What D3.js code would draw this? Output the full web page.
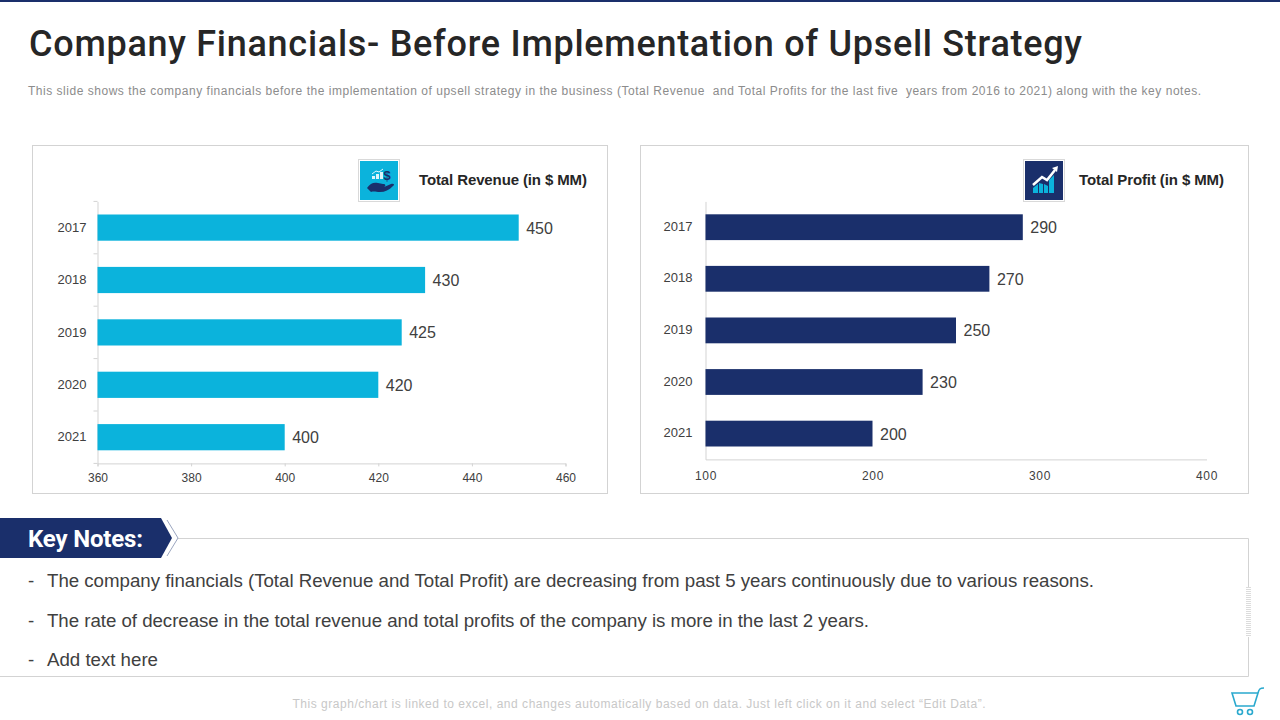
<!DOCTYPE html>
<html>
<head>
<meta charset="utf-8">
<script src="https://cdn.jsdelivr.net/npm/d3@7"></script>
<style>
html, body { margin: 0; padding: 0; background: #fff; }
svg { display: block; }
text { font-family: "Liberation Sans", Arial, sans-serif; white-space: pre; }
</style>
</head>
<body>
<script>
// chart values
const years = ["2017", "2018", "2019", "2020", "2021"];
const revenue = [450, 430, 425, 420, 400];
const profit = [290, 270, 250, 230, 200];
const revenueTicks = [360, 380, 400, 420, 440, 460];
const profitTicks = [100, 200, 300, 400];
const notes = [
  "The company financials (Total Revenue and Total Profit) are decreasing from past 5 years continuously due to various reasons.",
  "The rate of decrease in the total revenue and total profits of the company is more in the last 2 years.",
  "Add text here"
];

const cyan = "#0BB3DC", navy = "#1A2F6B", border = "#D3D3D3";

const svg = d3.select("body").append("svg")
  .attr("width", 1280)
  .attr("height", 720);

svg.append("rect").attr("width", 1280).attr("height", 2).attr("fill", navy);

svg.append("text")
  .attr("x", 29).attr("y", 55.5)
  .attr("font-size", 36)
  .attr("fill", "#262626")
  .attr("textLength", 1053)
  .style("font-family", "Roboto, sans-serif")
  .style("font-weight", 500)
  .text("Company Financials- Before Implementation of Upsell Strategy");

svg.append("text")
  .attr("x", 28).attr("y", 94.5)
  .attr("font-size", 12)
  .attr("fill", "#8c8c8c")
  .attr("textLength", 1173)
  .text("This slide shows the company financials before the implementation of upsell strategy in the business (Total Revenue  and Total Profits for the last five  years from 2016 to 2021) along with the key notes.");

function panel(o) {
  const g = svg.append("g");
  g.append("rect")
    .attr("x", o.box[0] + 0.5).attr("y", o.box[1] + 0.5)
    .attr("width", o.box[2]).attr("height", o.box[3])
    .attr("fill", "#fff").attr("stroke", border);

  const x = d3.scaleLinear().domain(o.domain).range(o.xRange);
  const y = d3.scaleBand().domain(years).range(o.yRange).paddingInner(0.5).paddingOuter(0.25);

  const xAxis = g.append("g")
    .attr("transform", `translate(0,${o.yRange[1]})`)
    .call(d3.axisBottom(x).tickValues(o.ticks).tickFormat(d3.format("d")).tickSize(o.xTick).tickPadding(o.xPad));
  const yAxis = g.append("g")
    .attr("transform", `translate(${o.xRange[0]},0)`)
    .call(d3.axisLeft(y).tickSize(0).tickPadding(o.yPad));

  xAxis.selectAll("text").attr("font-size", 12).attr("fill", "#404040")
    .style("font-family", "Liberation Sans").style("letter-spacing", o.xSpacing);
  yAxis.selectAll("text").attr("font-size", 13).attr("fill", "#404040")
    .attr("dy", o.yShift).style("font-family", "Liberation Sans");
  xAxis.selectAll("line").attr("stroke", border);
  xAxis.select(".domain").attr("stroke", border);
  yAxis.select(".domain").attr("stroke", border);

  if (o.yTicks) {
    // category separators on the left axis
    const seps = years.map(d => y(d) - y.step() * 0.25).concat(o.yRange[1]);
    g.selectAll(".sep").data(seps).enter().append("line")
      .attr("x1", o.xRange[0] - 4).attr("x2", o.xRange[0])
      .attr("y1", d => d).attr("y2", d => d)
      .attr("stroke", border);
  }

  g.selectAll(".bar").data(o.values).enter().append("rect")
    .attr("x", o.xRange[0])
    .attr("y", (d, i) => y(years[i]))
    .attr("width", d => x(d) - o.xRange[0])
    .attr("height", y.bandwidth())
    .attr("fill", o.color);

  g.selectAll(".val").data(o.values).enter().append("text")
    .attr("x", d => x(d) + 7.5)
    .attr("y", (d, i) => y(years[i]) + y.bandwidth() / 2 + 6)
    .attr("font-size", 16)
    .attr("fill", "#404040")
    .text(d => d);

  g.append("text")
    .attr("x", o.titleX).attr("y", 185)
    .attr("font-size", 15)
    .attr("font-weight", 700)
    .attr("fill", "#262626")
    .attr("textLength", o.titleLen)
    .text(o.title);
}

panel({
  box: [32, 145, 575, 348],
  domain: [360, 460], xRange: [97.5, 565.5], yRange: [201.4, 463.4],
  ticks: revenueTicks, values: revenue, color: cyan,
  title: "Total Revenue (in $ MM)", titleX: 419, titleLen: 168,
  xTick: 3, xPad: 7, yPad: 11, yShift: "0.32em", xSpacing: "0", yTicks: true
});
panel({
  box: [640, 145, 608, 348],
  domain: [100, 400], xRange: [705.5, 1206.5], yRange: [201.4, 459.4],
  ticks: profitTicks, values: profit, color: navy,
  title: "Total Profit (in $ MM)", titleX: 1079, titleLen: 145,
  xTick: 0, xPad: 12, yPad: 13, yShift: "0.28em", xSpacing: "0.6px", yTicks: false
});

// revenue icon
const ic1 = svg.append("g").attr("transform", "translate(358,159)");
ic1.append("rect").attr("x", 0.5).attr("y", 0.5).attr("width", 41).attr("height", 42).attr("fill", "#fff").attr("stroke", "#d9d9d9");
ic1.append("rect").attr("x", 2).attr("y", 2).attr("width", 38).attr("height", 39).attr("fill", cyan);
ic1.append("path").attr("d", "M14 17h3v3h-3zM18 15h3v5h-3zM22 13h3v7h-3z").attr("fill", "#dff5fb");
ic1.append("path").attr("d", "M14 15l4-3 3 1 4-3").attr("fill", "none").attr("stroke", "#dff5fb");
ic1.append("text").attr("x", 25.5).attr("y", 20.5).attr("font-size", 13).attr("font-weight", 700).attr("fill", navy).text("$");
ic1.append("path").attr("d", "M9 29c3-5 7-6 11-5l5 1c3 0 3 2 1 3l7-3c3-1 4 1 2 2-4 4-8 6-13 6-4 0-6-1-9 0z").attr("fill", navy);

// profit icon
const ic2 = svg.append("g").attr("transform", "translate(1023,159)");
ic2.append("rect").attr("x", 0.5).attr("y", 0.5).attr("width", 41).attr("height", 42).attr("fill", "#fff").attr("stroke", "#d9d9d9");
ic2.append("rect").attr("x", 2).attr("y", 2).attr("width", 38).attr("height", 39).attr("fill", navy);
ic2.append("path").attr("d", "M10 34V29l5-4v9zM16 34V24l4 1v9zM21 34V25l4 2v7zM26 34V21l5-5v18z").attr("fill", cyan);
ic2.append("path").attr("d", "M10 26l9-8 5 3 8-10").attr("fill", "none").attr("stroke", "#fff").attr("stroke-width", 2.5);
ic2.append("path").attr("d", "M29 9l6-2-1 6z").attr("fill", "#fff");

// key notes box
svg.append("path")
  .attr("d", "M178 538.5H1248.5V676.5H0")
  .attr("fill", "none").attr("stroke", border);
svg.append("rect").attr("x", 1246).attr("y", 587).attr("width", 5).attr("height", 50).attr("fill", "#fff");
d3.range(587, 637, 2).forEach(v => {
  svg.append("line").attr("x1", 1246).attr("x2", 1251).attr("y1", v + 0.5).attr("y2", v + 0.5).attr("stroke", "#dcdcdc");
});
svg.append("path").attr("d", "M0 518H161L172 538L161 558H0Z").attr("fill", navy);
svg.append("path").attr("d", "M167 520L178 538L167 556").attr("fill", "none").attr("stroke", "#9aa5bf");
svg.append("text")
  .attr("x", 28).attr("y", 547)
  .attr("font-size", 24).attr("fill", "#fff")
  .attr("textLength", 115)
  .style("font-family", "Roboto, sans-serif").style("font-weight", 700)
  .text("Key Notes:");

const noteY = [587, 627, 666];
const noteLen = [1047, 822, 111];
svg.selectAll(".note").data(notes).enter().append("text")
  .attr("x", 47)
  .attr("y", (d, i) => noteY[i])
  .attr("font-size", 18.7)
  .attr("fill", "#404040")
  .attr("textLength", (d, i) => noteLen[i])
  .text(d => d);
svg.selectAll(".dash").data(notes).enter().append("text")
  .attr("x", 28)
  .attr("y", (d, i) => noteY[i])
  .attr("font-size", 18.7)
  .attr("fill", "#404040")
  .text("-");

svg.append("text")
  .attr("x", 639).attr("y", 708)
  .attr("text-anchor", "middle")
  .attr("font-size", 12)
  .attr("fill", "#c8c8c8")
  .attr("textLength", 693)
  .text("This graph/chart is linked to excel, and changes automatically based on data. Just left click on it and select \u201cEdit Data\u201d.");

// cart
const cart = svg.append("g").attr("fill", "none").attr("stroke", "#2AA9CE").attr("stroke-width", 1.6);
cart.append("path").attr("d", "M1232 693H1258L1254 706H1236ZM1258 693C1259 689 1260 688 1264 688");
cart.append("circle").attr("cx", 1240).attr("cy", 712).attr("r", 2.5);
cart.append("circle").attr("cx", 1250).attr("cy", 712).attr("r", 2.5);
</script>
</body>
</html>
